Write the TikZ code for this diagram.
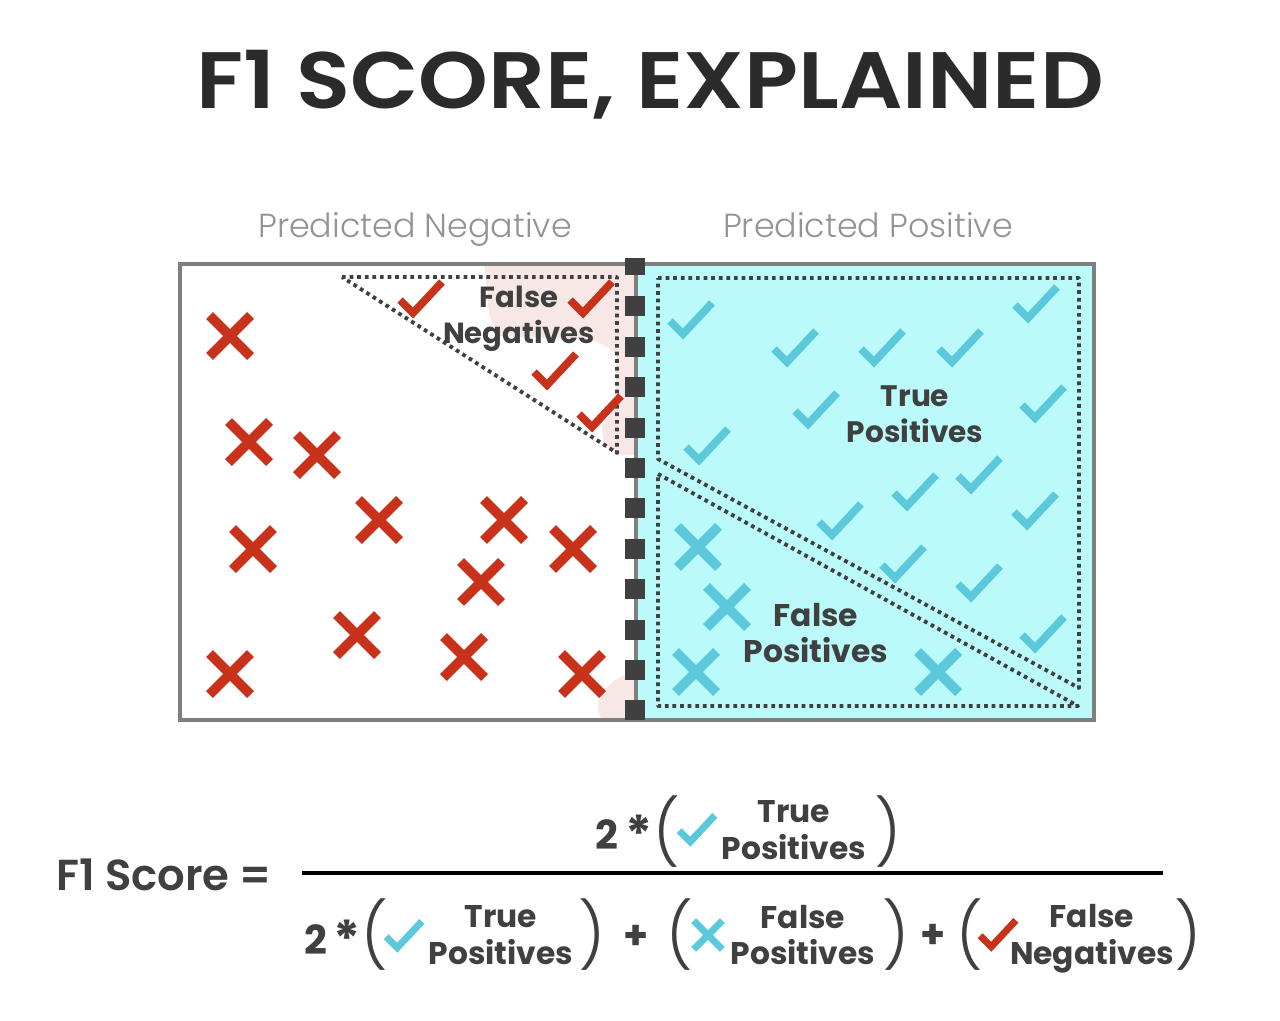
\documentclass[tikz,border=0pt]{standalone}
\usepackage{fontspec}
\setmainfont{Poppins}
\newfontfamily\lightf{Poppins Light}
\newfontfamily\semif{Poppins SemiBold}
\newcommand\fs[2]{\fontsize{#1}{#2}\selectfont}
\definecolor{ink}{HTML}{404040}
\definecolor{titleink}{HTML}{2B2B2B}
\definecolor{redc}{HTML}{C9321A}
\definecolor{bluec}{HTML}{5BC8DC}
\definecolor{cyanbg}{HTML}{BBFAFA}
\definecolor{pinkbg}{HTML}{F7E8E6}
\definecolor{framec}{HTML}{7F7F7F}
\tikzset{
  chk/.pic={\draw[pic actions,miter limit=10] (-21,2)--(-8,15)--(21,-16);},
  crs/.pic={\draw[pic actions] (-20.5,-20.5)--(20.5,20.5) (-20.5,20.5)--(20.5,-20.5);},
  bigmark/.style={line width=7.4pt},
  smallmark/.style={line width=5.2pt},
  dots/.style={draw=ink,line width=2.9pt,dash pattern=on 2.8pt off 2.9pt,line join=round},
  lbl/.style={font=\bfseries\fs{23.5pt}{27.5pt},text=ink,align=center,inner sep=0pt},
  fnlbl/.style={lbl,font=\bfseries\fs{21.8pt}{27pt}},
  tplbl/.style={lbl,font=\bfseries\fs{22.2pt}{27pt}},
  num/.style={font=\bfseries\fs{30pt}{30pt},text=ink,inner sep=0pt},
  bigtext/.style={font=\semif\fs{32.5pt}{32.5pt},text=ink,inner sep=0pt},
  star/.style={font=\bfseries\fs{38pt}{38pt},text=ink,inner sep=0pt},
  paren/.style={font=\lightf\fs{48pt}{48pt},text=ink,inner sep=0pt},
  head/.style={font=\lightf\fs{25pt}{25pt},text=black!42,inner sep=0pt,anchor=base}
}
\begin{document}
\begin{tikzpicture}[x=0.75pt,y=-0.75pt]
\useasboundingbox (0,0) rectangle (1280,1020);
% panels
\fill[cyanbg] (638,264) rectangle (1094,720);
\fill[pinkbg] (484,265) -- (636,265) -- (636,455) -- (617,455) -- (603,442) -- (602,425) -- (616,408) -- (616,354)
  .. controls (608,346) and (600,344) .. (592,340) -- (500,336) .. controls (490,325) and (488,310) .. (488,300) -- cycle;
\fill[pinkbg] (602,720) .. controls (592,700) and (600,690) .. (622,676) -- (636,678) -- (636,720) -- cycle;
\draw[framec,line width=2.7pt] (180,264) rectangle (1094,720);
\draw[framec,line width=2.8pt] (636.2,264) -- (636.2,720);
\fill[ink] (625,258) rectangle (645,275);
\foreach \k in {1,...,11} \fill[ink] (625,266+40.4*\k-10) rectangle (645,266+40.4*\k+10);
% dotted regions
\draw[dots] (342,277) -- (617,277) -- (617,453) -- cycle;
\draw[dots] (658,278) -- (1079,278) -- (1079,688) -- (658,459) -- cycle;
\draw[dots] (658,474) -- (1078,706) -- (658,706) -- cycle;
% marks
\foreach \x/\y in {230/336,249/442,317/455,379/520,504/520,573/549,253/549,481/582,357/635,464/657,582/674,230/674}
  \pic[draw=redc,bigmark] at (\x,\y) {crs};
\foreach \x/\y in {698/547,727/607,696/672,938/672}
  \pic[draw=bluec,bigmark] at (\x,\y) {crs};
\foreach \x/\y in {421/298,591/298,555/370,600/412}
  \pic[draw=redc,line width=5.8pt] at (\x,\y) {chk};
\foreach \x/\y in {691/319,795/347,882/347,960/347,1036/303,1043/403,816/409,707/445,915/491,979/474,1035/510,840/520,903/563,979/582,1043/633}
  \pic[draw=bluec,line width=5.8pt] at (\x,\y) {chk};
% headings
\node[font=\semif\fs{60pt}{60pt},text=titleink,inner sep=0pt] (title) at (650,85) {\scalebox{1.11}[1]{F1 SCORE, EXPLAINED}};
\node[head] (hneg) at (415,237) {Predicted Negative};
\node[head] (hpos) at (868,237) {Predicted Positive};
% region labels
\node[fnlbl] (fn) at (519,319) {False\\Negatives};
\node[tplbl] (tp) at (915,414) {True\\Positives};
\node[lbl] (fp) at (816,633) {False\\Positives};
% formula
\node[bigtext] (f1) at (164,875) {F1 Score =};
\draw[black,line width=2.7pt] (302,873) -- (1163,873);
\node[num] (n2) at (607,835) {2};
\node[star] (nstar) at (639,834) {*};
\node[paren] (nl) at (667,832) {(};
\pic[draw=bluec,smallmark,scale=.85] at (697,829) {chk};
\node[lbl] (ntp) at (794,830) {True\\Positives};
\node[paren] (nr) at (888,832) {)};
\node[num] (d2) at (316,940) {2};
\node[star] (dstar) at (347,939) {*};
\node[paren] (dl1) at (375,935) {(};
\pic[draw=bluec,smallmark,scale=.85] at (404,935) {chk};
\node[lbl] (dtp) at (501,935) {True\\Positives};
\node[paren] (dr1) at (592,935) {)};
\node[num] (plus1) at (636,937) {+};
\node[paren] (dl2) at (680,935) {(};
\pic[draw=bluec,smallmark,scale=.7] at (708,935) {crs};
\node[lbl] (dfp) at (803,935) {False\\Positives};
\node[paren] (dr2) at (896,935) {)};
\node[num] (plus2) at (933,936) {+};
\node[paren] (dl3) at (970,935) {(};
\pic[draw=redc,smallmark,scale=.85] at (998,934) {chk};
\node[lbl] (dfn) at (1092,939) {False\\Negatives};
\node[paren] (dr3) at (1188,935) {)};
\end{tikzpicture}
\end{document}
